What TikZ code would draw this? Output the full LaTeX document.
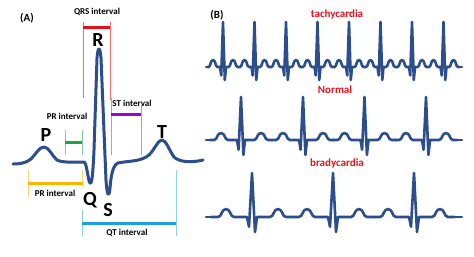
\documentclass[tikz,border=0pt]{standalone}
\usepackage{fontspec}
\setmainfont{Carlito}[BoldFont={Carlito Bold}]
\definecolor{ecgblue}{HTML}{2C4E8C}
\definecolor{rhythmred}{HTML}{E8141E}
\definecolor{qrsred}{HTML}{E8101A}
\definecolor{qrsthin}{HTML}{F07070}
\definecolor{prgreen}{HTML}{1BA64A}
\definecolor{prthin}{HTML}{80D0A0}
\definecolor{stpurple}{HTML}{A000E0}
\definecolor{stthin}{HTML}{E080F0}
\definecolor{pryellow}{HTML}{F5B800}
\definecolor{prythin}{HTML}{F8D870}
\definecolor{qtblue}{HTML}{1EA0E0}
\definecolor{qtthin}{HTML}{90D0F0}
\tikzset{
  ecg/.style={draw=ecgblue, line width=3pt, line join=round, line cap=round},
  ecgthin/.style={draw=ecgblue, line width=2.6pt, line join=round, line cap=round},
  lbl/.style={font=\fontsize{9}{10}\selectfont\bfseries, text=black, inner sep=0pt},
  wave/.style={font=\fontsize{20}{22}\selectfont\bfseries, text=black, inner sep=0pt},
  panel/.style={font=\fontsize{11}{12}\selectfont\bfseries, text=black, inner sep=0pt},
  rhythm/.style={font=\fontsize{11}{12}\selectfont\bfseries, text=rhythmred, inner sep=0pt},
  thinmark/.style={line width=0.9pt},
  barmark/.style={line width=3pt},
}
\newcommand{\ecgbeat}[2]{%
  \draw[ecgthin] ({#1-\hp},#2) -- ({#1-\pt-\bw},#2)
    .. controls ({#1-\pt-0.5*\bw},#2) and ({#1-\pt-0.6*\bw},{#2-\bh}) .. ({#1-\pt},{#2-\bh})
    .. controls ({#1-\pt+0.6*\bw},{#2-\bh}) and ({#1-\pt+0.5*\bw},#2) .. ({#1-\pt+\bw},#2)
    -- ({#1-\qw},#2) -- ({#1-0.6*\qw},{#2+0.65*\qd}) -- (#1,{#2-\rh})
    -- ({#1+0.6*\qw},{#2+\qd}) -- ({#1+\qw},#2)
    -- ({#1+\pt-\bw},#2)
    .. controls ({#1+\pt-0.5*\bw},#2) and ({#1+\pt-0.6*\bw},{#2-\bh}) .. ({#1+\pt},{#2-\bh})
    .. controls ({#1+\pt+0.6*\bw},{#2-\bh}) and ({#1+\pt+0.5*\bw},#2) .. ({#1+\pt+\bw},#2)
    -- ({#1+\hp},#2);}
\begin{document}
\begin{tikzpicture}[x=1pt,y=-1pt]
\useasboundingbox[fill=white] (0,0) rectangle (474,257);

% ---------- Panel A ----------
\node[panel] (A) at (27,18) {(A)};
\draw[ecg] (13,164) .. controls (20,164) and (26,163) .. (31,159)
  .. controls (36,154) and (39,147) .. (44,147)
  .. controls (49,147) and (52,156) .. (57,160)
  .. controls (62,163) and (76,162) .. (84,162)
  .. controls (87,163) and (88,181) .. (90,183)
  .. controls (92,185) and (93,172) .. (94,150)
  -- (97,58) .. controls (98,46) and (100,46) .. (101,58)
  -- (106,180) .. controls (107,196) and (109,199) .. (110,188)
  .. controls (111,175) and (113,165) .. (118,163)
  .. controls (126,161) and (141,162) .. (149,155)
  .. controls (155,149) and (158,140) .. (162,140)
  .. controls (166,140) and (169,150) .. (174,157)
  .. controls (179,162) and (191,163) .. (203,160);

% QRS interval
\coordinate (qrs1t) at (83,22); \coordinate (qrs1b) at (83,98);
\coordinate (qrs2t) at (110,22); \coordinate (qrs2b) at (110,100);
\coordinate (qrsL) at (83,27); \coordinate (qrsR) at (110,27);
\draw[thinmark, qrsthin] (qrs1t) -- (qrs1b);
\draw[thinmark, qrsthin] (qrs2t) -- (qrs2b);
\draw[barmark, qrsred] (qrsL) -- (qrsR);
\node[lbl] (qrslbl) at (97,12) {QRS interval};
\node[wave] (R) at (98,40) {R};

% PR interval (upper, green)
\coordinate (g1t) at (65,130); \coordinate (g1b) at (65,155);
\coordinate (g2t) at (82,130); \coordinate (g2b) at (82,155);
\coordinate (gL) at (65,142); \coordinate (gR) at (82,142);
\draw[thinmark, prthin] (g1t) -- (g1b);
\draw[thinmark, prthin] (g2t) -- (g2b);
\draw[barmark, prgreen] (gL) -- (gR);
\node[lbl] (prup) at (67,116) {PR interval};
\node[wave] (P) at (46,135) {P};

% ST interval
\coordinate (s1t) at (111,98); \coordinate (s1b) at (111,155);
\coordinate (s2t) at (141,105); \coordinate (s2b) at (141,155);
\coordinate (sL) at (111,114); \coordinate (sR) at (141,114);
\draw[thinmark, stthin] (s1t) -- (s1b);
\draw[thinmark, stthin] (s2t) -- (s2b);
\draw[barmark, stpurple] (sL) -- (sR);
\node[lbl] (stlbl) at (132,103) {ST interval};
\node[wave] (T) at (162,132) {T};

% PR interval (lower, yellow)
\coordinate (y1t) at (28,170); \coordinate (y1b) at (28,197);
\coordinate (y2t) at (82,170); \coordinate (y2b) at (82,187);
\coordinate (yL) at (28,183); \coordinate (yR) at (83,183);
\draw[thinmark, prythin] (y1t) -- (y1b);
\draw[thinmark, prythin] (y2t) -- (y2b);
\draw[barmark, pryellow] (yL) -- (yR);
\node[lbl] (prlow) at (55,193) {PR interval};
\node[wave] (Q) at (90,200) {Q};
\node[wave] (S) at (108,210) {S};

% QT interval
\coordinate (b1t) at (82,210); \coordinate (b1b) at (82,236);
\coordinate (b2t) at (176,170); \coordinate (b2b) at (176,236);
\coordinate (bL) at (82,223); \coordinate (bR) at (176,223);
\draw[thinmark, qtthin] (b1t) -- (b1b);
\draw[thinmark, qtthin] (b2t) -- (b2b);
\draw[barmark, qtblue] (bL) -- (bR);
\node[lbl] (qtlbl) at (127,233) {QT interval};

% ---------- Panel B ----------
\node[panel] (B) at (217,15) {(B)};
\node[rhythm] (tachy) at (337,15) {tachycardia};
\node[rhythm] (normal) at (335,90) {Normal};
\node[rhythm] (brady) at (337,164) {bradycardia};

% tachycardia row
\def\hp{15.7}\def\pt{10}\def\bw{4.5}\def\bh{7}\def\rh{45}\def\qd{13}\def\qw{3}
\foreach \rx in {223,254.5,286,317.5,349,380.5,412,443.5} {\ecgbeat{\rx}{67}}
\draw[ecgthin] (206,67) -- (207.3,67);
\draw[ecgthin] (459.2,67) -- (462,67);

% normal row
\def\hp{31}\def\pt{20}\def\bw{7}\def\bh{7}\def\rh{43}\def\qd{15}\def\qw{4}
\foreach \rx in {241,303,364.5,426} {\ecgbeat{\rx}{140}}
\draw[ecgthin] (206,140) -- (210,140);
\draw[ecgthin] (457,140) -- (462,140);

% bradycardia row
\def\hp{40.5}\def\pt{26}\def\bw{8}\def\bh{8}\def\rh{44}\def\qd{15}\def\qw{5}
\foreach \rx in {252,333,414} {\ecgbeat{\rx}{217}}
\draw[ecgthin] (206,217) -- (211.5,217);
\draw[ecgthin] (454.5,217) -- (462,217);
\end{tikzpicture}
\end{document}
